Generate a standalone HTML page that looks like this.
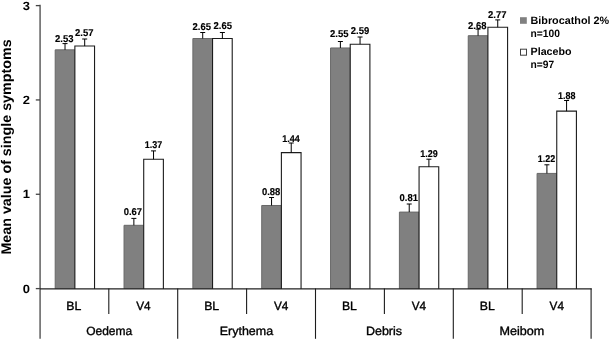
<!DOCTYPE html>
<html><head><meta charset="utf-8"><title>chart</title>
<style>
html,body{margin:0;padding:0;background:#fff;}
svg{display:block;}
text{font-family:"Liberation Sans",Arial,sans-serif;fill:#000;text-rendering:geometricPrecision;}
.v{font-size:9.9px;font-weight:bold;text-anchor:middle;stroke:#000;stroke-width:0.15px;}
.ax{font-size:12px;font-weight:bold;text-anchor:end;}
.cat{font-size:12px;text-anchor:middle;stroke:#000;stroke-width:0.35px;}
.lg{font-size:10.67px;font-weight:bold;}
.yt{font-size:14px;font-weight:bold;text-anchor:middle;}
</style></head><body>
<svg width="609" height="340" viewBox="0 0 609 340">
<rect width="609" height="340" fill="#fff"/>

<path d="M55.20 288.9V49.85h19.67V288.9" fill="#808080" stroke="#686868" stroke-width="1"/>
<path d="M74.87 288.9V46.07h19.67V288.9" fill="#fff" stroke="#1c1c1c" stroke-width="1.1"/>
<path d="M65.03 49.85V43.60M62.53 43.60h5" stroke="#000" stroke-width="1" fill="none"/>
<text class="v" x="64.30" y="42.40" textLength="18.4" lengthAdjust="spacingAndGlyphs">2.53</text>
<path d="M84.70 46.07V39.00M82.20 39.00h5" stroke="#000" stroke-width="1" fill="none"/>
<text class="v" x="84.30" y="35.70" textLength="18.4" lengthAdjust="spacingAndGlyphs">2.57</text>
<path d="M124.04 288.9V225.30h19.67V288.9" fill="#808080" stroke="#686868" stroke-width="1"/>
<path d="M143.71 288.9V159.27h19.67V288.9" fill="#fff" stroke="#1c1c1c" stroke-width="1.1"/>
<path d="M133.87 225.30V218.40M131.37 218.40h5" stroke="#000" stroke-width="1" fill="none"/>
<text class="v" x="132.90" y="214.70" textLength="18.4" lengthAdjust="spacingAndGlyphs">0.67</text>
<path d="M153.54 159.27V150.90M151.04 150.90h5" stroke="#000" stroke-width="1" fill="none"/>
<text class="v" x="153.50" y="148.20" textLength="17.5" lengthAdjust="spacingAndGlyphs">1.37</text>
<path d="M192.88 288.9V38.53h19.67V288.9" fill="#808080" stroke="#686868" stroke-width="1"/>
<path d="M212.55 288.9V38.53h19.67V288.9" fill="#fff" stroke="#1c1c1c" stroke-width="1.1"/>
<path d="M202.71 38.53V32.50M200.21 32.50h5" stroke="#000" stroke-width="1" fill="none"/>
<text class="v" x="201.75" y="29.70" textLength="18.4" lengthAdjust="spacingAndGlyphs">2.65</text>
<path d="M222.38 38.53V32.50M219.88 32.50h5" stroke="#000" stroke-width="1" fill="none"/>
<text class="v" x="222.70" y="29.40" textLength="18.4" lengthAdjust="spacingAndGlyphs">2.65</text>
<path d="M261.72 288.9V205.49h19.67V288.9" fill="#808080" stroke="#686868" stroke-width="1"/>
<path d="M281.39 288.9V152.66h19.67V288.9" fill="#fff" stroke="#1c1c1c" stroke-width="1.1"/>
<path d="M271.55 205.49V197.50M269.05 197.50h5" stroke="#000" stroke-width="1" fill="none"/>
<text class="v" x="271.10" y="194.90" textLength="18.4" lengthAdjust="spacingAndGlyphs">0.88</text>
<path d="M291.22 152.66V143.00M288.72 143.00h5" stroke="#000" stroke-width="1" fill="none"/>
<text class="v" x="291.00" y="142.00" textLength="17.5" lengthAdjust="spacingAndGlyphs">1.44</text>
<path d="M330.56 288.9V47.96h19.67V288.9" fill="#808080" stroke="#686868" stroke-width="1"/>
<path d="M350.23 288.9V44.19h19.67V288.9" fill="#fff" stroke="#1c1c1c" stroke-width="1.1"/>
<path d="M340.39 47.96V41.50M337.89 41.50h5" stroke="#000" stroke-width="1" fill="none"/>
<text class="v" x="339.20" y="37.30" textLength="18.4" lengthAdjust="spacingAndGlyphs">2.55</text>
<path d="M360.06 44.19V37.00M357.56 37.00h5" stroke="#000" stroke-width="1" fill="none"/>
<text class="v" x="360.00" y="34.30" textLength="18.4" lengthAdjust="spacingAndGlyphs">2.59</text>
<path d="M399.40 288.9V212.09h19.67V288.9" fill="#808080" stroke="#686868" stroke-width="1"/>
<path d="M419.07 288.9V166.81h19.67V288.9" fill="#fff" stroke="#1c1c1c" stroke-width="1.1"/>
<path d="M409.23 212.09V204.00M406.73 204.00h5" stroke="#000" stroke-width="1" fill="none"/>
<text class="v" x="408.80" y="201.30" textLength="18.4" lengthAdjust="spacingAndGlyphs">0.81</text>
<path d="M428.90 166.81V159.20M426.40 159.20h5" stroke="#000" stroke-width="1" fill="none"/>
<text class="v" x="429.10" y="157.20" textLength="17.5" lengthAdjust="spacingAndGlyphs">1.29</text>
<path d="M468.24 288.9V35.70h19.67V288.9" fill="#808080" stroke="#686868" stroke-width="1"/>
<path d="M487.91 288.9V27.21h19.67V288.9" fill="#fff" stroke="#1c1c1c" stroke-width="1.1"/>
<path d="M478.07 35.70V29.10M475.57 29.10h5" stroke="#000" stroke-width="1" fill="none"/>
<text class="v" x="477.30" y="28.60" textLength="18.4" lengthAdjust="spacingAndGlyphs">2.68</text>
<path d="M497.74 27.21V19.90M495.24 19.90h5" stroke="#000" stroke-width="1" fill="none"/>
<text class="v" x="497.30" y="18.20" textLength="18.4" lengthAdjust="spacingAndGlyphs">2.77</text>
<path d="M537.08 288.9V173.42h19.67V288.9" fill="#808080" stroke="#686868" stroke-width="1"/>
<path d="M556.75 288.9V111.16h19.67V288.9" fill="#fff" stroke="#1c1c1c" stroke-width="1.1"/>
<path d="M546.91 173.42V164.80M544.41 164.80h5" stroke="#000" stroke-width="1" fill="none"/>
<text class="v" x="546.40" y="161.70" textLength="17.5" lengthAdjust="spacingAndGlyphs">1.22</text>
<path d="M566.58 111.16V100.50M564.08 100.50h5" stroke="#000" stroke-width="1" fill="none"/>
<text class="v" x="566.70" y="98.80" textLength="17.5" lengthAdjust="spacingAndGlyphs">1.88</text>
<path d="M40.1 4.8V338.8" stroke="#7a7a7a" stroke-width="1.8" fill="none"/>
<path d="M40.0 288.9H591.70" stroke="#222" stroke-width="1.3" fill="none"/>
<path d="M35.8 288.60H40.0" stroke="#444" stroke-width="1.3"/>
<text class="ax" transform="translate(29.9,292.7) scale(1.08,1)">0</text>
<path d="M35.8 194.27H40.0" stroke="#444" stroke-width="1.3"/>
<text class="ax" transform="translate(29.9,198.4) scale(1.08,1)">1</text>
<path d="M35.8 99.94H40.0" stroke="#444" stroke-width="1.3"/>
<text class="ax" transform="translate(29.9,104.0) scale(1.08,1)">2</text>
<path d="M35.8 5.61H40.0" stroke="#444" stroke-width="1.3"/>
<text class="ax" transform="translate(29.9,9.7) scale(1.08,1)">3</text>
<path d="M108.80 288.5V314" stroke="#1c1c1c" stroke-width="1.1"/>
<path d="M177.70 288.5V338.8" stroke="#1c1c1c" stroke-width="1.1"/>
<path d="M246.60 288.5V314" stroke="#1c1c1c" stroke-width="1.1"/>
<path d="M315.50 288.5V338.8" stroke="#1c1c1c" stroke-width="1.1"/>
<path d="M384.40 288.5V314" stroke="#1c1c1c" stroke-width="1.1"/>
<path d="M453.30 288.5V338.8" stroke="#1c1c1c" stroke-width="1.1"/>
<path d="M522.20 288.5V314" stroke="#1c1c1c" stroke-width="1.1"/>
<path d="M591.10 288.5V338.8" stroke="#1c1c1c" stroke-width="1.1"/>
<text class="cat" transform="translate(73.85,310.2) scale(1.02,1)">BL</text>
<text class="cat" transform="translate(143.35,310.2) scale(0.98,1)">V4</text>
<text class="cat" transform="translate(211.65,310.2) scale(1.02,1)">BL</text>
<text class="cat" transform="translate(281.15,310.2) scale(0.98,1)">V4</text>
<text class="cat" transform="translate(349.45,310.2) scale(1.02,1)">BL</text>
<text class="cat" transform="translate(418.95,310.2) scale(0.98,1)">V4</text>
<text class="cat" transform="translate(487.25,310.2) scale(1.02,1)">BL</text>
<text class="cat" transform="translate(556.75,310.2) scale(0.98,1)">V4</text>
<text class="cat" transform="translate(109.20,335.3) scale(1.0,1)">Oedema</text>
<text class="cat" transform="translate(246.40,335.3) scale(1.04,1)">Erythema</text>
<text class="cat" transform="translate(384.00,335.3) scale(1.04,1)">Debris</text>
<text class="cat" transform="translate(521.90,335.3) scale(1.05,1)">Meibom</text>
<text class="yt" transform="translate(10.5,147) rotate(-90)" textLength="215.2" lengthAdjust="spacingAndGlyphs">Mean value of single symptoms</text>
<rect x="520" y="17.2" width="6.8" height="6.6" fill="#808080"/>
<rect x="520.5" y="49.2" width="6" height="6" fill="#fff" stroke="#404040" stroke-width="1"/>
<text class="lg" x="530.5" y="24.1" textLength="78.6" lengthAdjust="spacingAndGlyphs">Bibrocathol 2%</text>
<text class="lg" x="530.6" y="37.1" textLength="29.4" lengthAdjust="spacingAndGlyphs">n=100</text>
<text class="lg" x="530.6" y="54.9">Placebo</text>
<text class="lg" x="530.6" y="68.1" textLength="23.7" lengthAdjust="spacingAndGlyphs">n=97</text>
</svg></body></html>
